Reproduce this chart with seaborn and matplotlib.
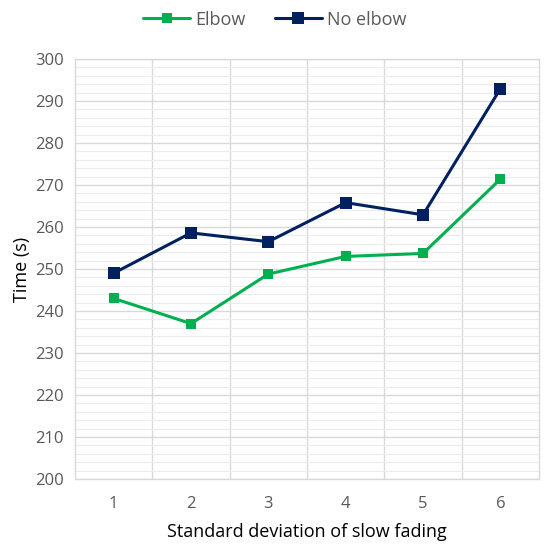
import matplotlib
matplotlib.use("Agg")
import matplotlib.pyplot as plt
import seaborn as sns
import pandas as pd
import numpy as np
from matplotlib.ticker import MultipleLocator, FixedLocator

categories = [1, 2, 3, 4, 5, 6]
elbow = [243.0, 237.0, 248.8, 253.0, 253.7, 271.4]
no_elbow = [249.0, 258.6, 256.5, 265.8, 262.9, 292.9]
series_names = ["Elbow", "No elbow"]
colors = ["#00B050", "#002060"]

df = pd.DataFrame({
    "x": categories * 2,
    "y": elbow + no_elbow,
    "series": [series_names[0]] * 6 + [series_names[1]] * 6,
})

sns.set_theme(style="white")
plt.rcParams['font.family'] = ['Open Sans', 'DejaVu Sans']

fig = plt.figure(figsize=(5.5, 5.46), dpi=100)
ax = fig.add_axes([75/550, 1 - 479/546, (539-75)/550, (479-59)/546])

for name, col, ms in zip(series_names, colors, [6.5, 8.5]):
    sub = df[df.series == name]
    sns.lineplot(data=sub, x="x", y="y", ax=ax, color=col, marker="s",
                 markersize=ms, markeredgewidth=0, linewidth=2.2, label=name,
                 zorder=3)

ax.set_xlim(0.5, 6.5)
ax.set_ylim(200, 300)
ax.xaxis.set_major_locator(FixedLocator(categories))
ax.xaxis.set_minor_locator(FixedLocator([1.5, 2.5, 3.5, 4.5, 5.5]))
ax.yaxis.set_major_locator(MultipleLocator(10))
ax.yaxis.set_minor_locator(MultipleLocator(2))
ax.grid(False)
ax.grid(which="minor", axis="x", color="#D9D9D9", linewidth=1)
ax.grid(which="major", axis="y", color="#D9D9D9", linewidth=1)
ax.grid(which="minor", axis="y", color="#ECECEC", linewidth=0.8)
ax.set_axisbelow(True)
ax.tick_params(which="both", length=0)
ax.tick_params(axis="both", labelsize=12, labelcolor="#595959", pad=8)
ax.tick_params(axis="x", pad=12)
for s in ax.spines.values():
    s.set_color("#D9D9D9")
    s.set_linewidth(1)

ax.set_xlabel("Standard deviation of slow fading", fontsize=13, color="#000000", labelpad=8)
ax.set_ylabel("Time (s)", fontsize=13, color="#000000", labelpad=3)

if ax.legend_:
    ax.legend_.remove()
handles, labels = ax.get_legend_handles_labels()
fig.legend(handles, labels, loc="upper center", bbox_to_anchor=(0.5, 1.01), ncol=2,
           frameon=False, fontsize=13, handlelength=2.6, columnspacing=1.6,
           handletextpad=0.3, labelcolor="#595959")

fig.savefig("out.png", dpi=100)
